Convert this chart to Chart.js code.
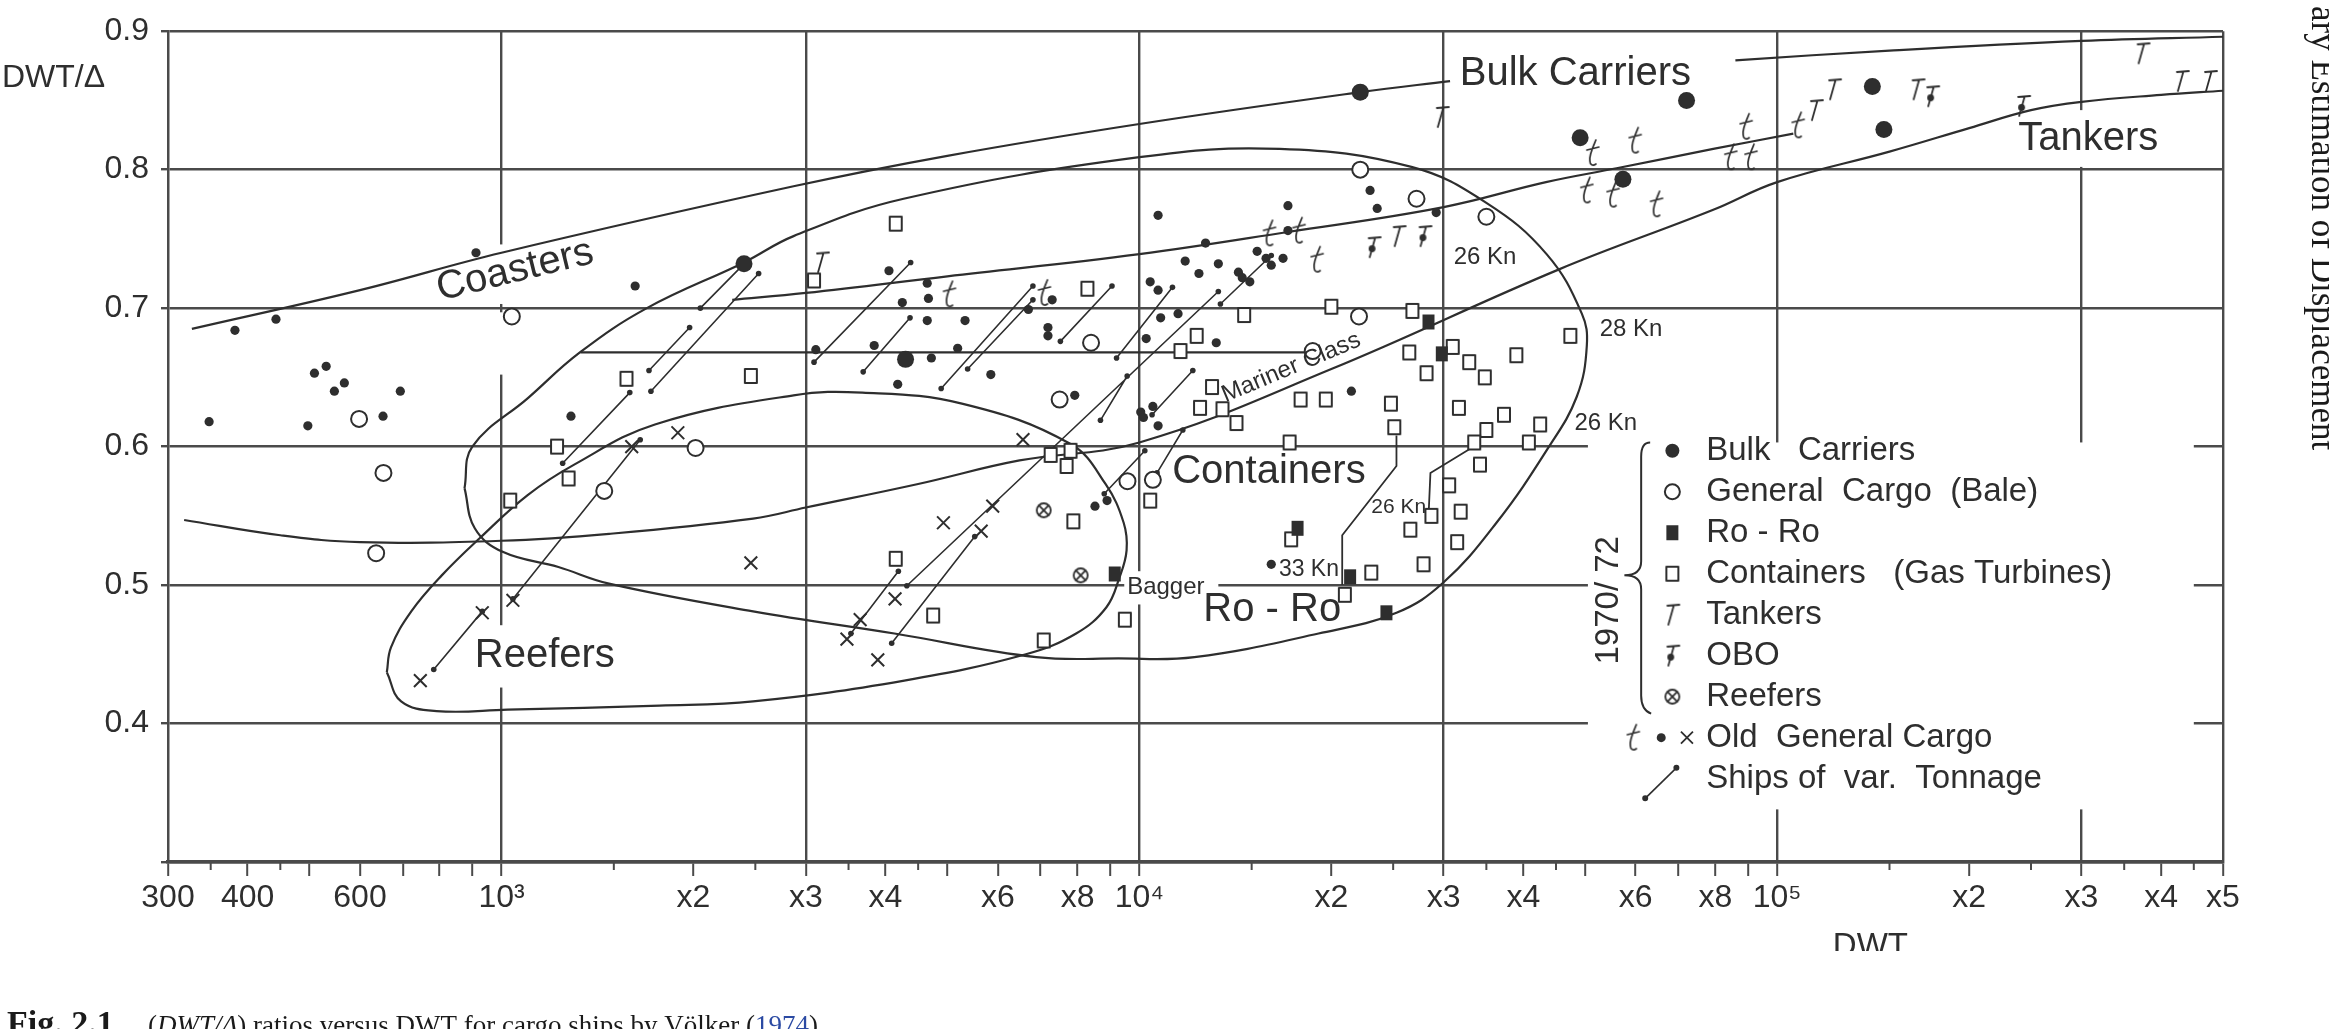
<!DOCTYPE html>
<html>
<head>
<meta charset="utf-8">
<style>
html, body { margin: 0; padding: 0; background: #fff; }
canvas { display: block; }
</style>
<script src="https://cdn.jsdelivr.net/npm/chart.js@4.4.1/dist/chart.umd.min.js"></script>
</head>
<body>
<canvas id="chart" width="2329" height="1029"></canvas>
<script>
// axis ticks
var xTickValues = [300,350,400,450,500,600,700,800,900,1000,1500,2000,2500,3000,3500,4000,4500,5000,6000,7000,8000,9000,
  10000,15000,20000,25000,30000,35000,40000,45000,50000,60000,70000,80000,90000,100000,150000,200000,250000,300000,350000,400000,450000,500000];
var xShortTicks = [350,450,1500,2500,3500,4500,15000,25000,35000,45000,150000,250000,350000,450000];
var xGridValues = [1000,3000,10000,30000,100000,300000,500000];
var xLabelValues = [300,400,600,1000,2000,3000,4000,6000,8000,10000,20000,30000,40000,60000,80000,100000,200000,300000,400000,500000];
var xLabelTexts = ['300','400','600','10³','x2','x3','x4','x6','x8','10⁴','x2','x3','x4','x6','x8','10⁵','x2','x3','x4','x5'];
var yTickValues = [0.3,0.4,0.5,0.6,0.7,0.8,0.9];
var yTickLabels = ['','0.4','0.5','0.6','0.7','0.8','0.9'];

// 1970/72 ships  [DWT, DWT/displacement]
var bulkCarriers = [[2400,0.732],[4300,0.663],[22200,0.856],[49100,0.823],[57300,0.793],[72100,0.850],[141000,0.860],[147000,0.829]];
var generalCargoBale = [[598,0.620],[653,0.581],[636,0.523],[1038,0.694],[1449,0.568],[2015,0.599],[7500,0.634],[8400,0.675],
  [9580,0.575],[10500,0.576],[18700,0.669],[22100,0.694],[22200,0.800],[27200,0.779],[35000,0.766]];
var roRo = [[9150,0.508],[17700,0.541],[21400,0.506],[24400,0.480],[28400,0.690],[29800,0.667]];
var containers = [[1032,0.561],[1222,0.600],[1274,0.577],[1570,0.649],[2460,0.651],[3090,0.720],[4150,0.761],[4150,0.519],
  [4750,0.478],[7080,0.460],[7260,0.594],[7800,0.597],[7690,0.586],[7880,0.546],[8290,0.714],[9490,0.475],[10400,0.561],
  [11600,0.669],[12300,0.680],[13000,0.643],[12450,0.628],[13500,0.627],[14200,0.617],[14600,0.695],[17900,0.634],[19600,0.634],
  [17200,0.603],[20000,0.701],[24800,0.631],[25100,0.614],[26500,0.668],[26800,0.698],[28200,0.653],[31000,0.672],[32900,0.661],
  [34800,0.650],[39000,0.666],[31700,0.628],[37300,0.623],[35000,0.612],[33500,0.603],[42500,0.616],[40800,0.603],[47400,0.680],
  [34200,0.587],[30600,0.572],[31900,0.553],[28700,0.550],[26600,0.540],[31500,0.531],[17300,0.533],[23100,0.509],[21000,0.493],
  [27900,0.515]];
var tankers = [[3180,0.733],[25500,0.752],[29800,0.838],[115000,0.843],[122800,0.858],[166000,0.858],[374000,0.884],[431000,0.864],[477000,0.864]];
var obo = [[23300,0.744],[28000,0.752],[175000,0.853],[243000,0.846]];
var reefers = [[7080,0.554],[8090,0.507]];

// old general cargo ships
var oldCargoT = [[5040,0.710],[7100,0.711],[16000,0.754],[17800,0.756],[19000,0.735],[51400,0.812],[59900,0.821],[50300,0.785],
  [55300,0.782],[64700,0.775],[89400,0.831],[84600,0.809],[91000,0.809],[107900,0.832]];
var oldCargoDots = [[348,0.618],[382,0.684],[443,0.692],[497,0.615],[509,0.653],[531,0.658],[547,0.640],[567,0.646],[652,0.622],
  [694,0.640],[912,0.740],[1285,0.622],[1620,0.716],[3110,0.670],[3840,0.673],[4050,0.727],[4250,0.704],[4650,0.718],[4670,0.707],
  [4650,0.691],[5330,0.691],[4720,0.664],[5190,0.671],[4180,0.645],[5850,0.652],[6700,0.699],[7300,0.706],[7190,0.686],[7190,0.680],
  [7920,0.637],[8520,0.557],[8900,0.561],[10050,0.625],[10150,0.621],[10500,0.629],[10700,0.615],[10250,0.678],[10800,0.693],
  [11500,0.696],[10400,0.719],[10700,0.713],[10700,0.767],[11800,0.734],[12700,0.747],[13300,0.732],[12400,0.725],[13200,0.675],
  [15300,0.741],[15800,0.736],[16100,0.731],[16800,0.736],[14300,0.726],[14500,0.722],[14900,0.719],[17100,0.774],[17100,0.756],
  [23000,0.785],[23600,0.772],[29200,0.769],[21500,0.640],[16100,0.515]];
var oldCargoX = [[746,0.431],[933,0.480],[1042,0.489],[1600,0.600],[1890,0.610],[2460,0.516],[3480,0.461],[3650,0.475],[3890,0.446],
  [4140,0.490],[4930,0.545],[5650,0.539],[5890,0.557],[6570,0.605]];

// ships of various tonnage (pairs of end points)
var tonnageLines = [
  [[2050,0.700],[2400,0.732]], [[1715,0.640],[2530,0.725]], [[1703,0.655],[1972,0.686]], [[1247,0.588],[1589,0.639]],
  [[1042,0.490],[1650,0.605]], [[783,0.439],[933,0.481]], [[3090,0.661],[4380,0.733]], [[3690,0.654],[4370,0.693]],
  [[4890,0.642],[6810,0.716]], [[5380,0.656],[6810,0.706]], [[7520,0.676],[9060,0.716]], [[8690,0.619],[9570,0.651]],
  [[3530,0.465],[4190,0.510]], [[4320,0.4995],[13300,0.712]], [[4090,0.458],[5520,0.535]], [[9210,0.664],[11270,0.715]],
  [[10470,0.623],[12130,0.655]], [[13400,0.703],[16100,0.738]], [[10660,0.581],[11700,0.612]], [[8810,0.566],[10200,0.597]]
];

// boundary curves
var topCurveLeft = [[327,0.685],[600,0.713],[1000,0.740],[2870,0.788],[5000,0.810],[10000,0.833],[22200,0.856],[30700,0.864]];
var topCurveRight = [[86000,0.879],[150000,0.886],[300000,0.893],[500000,0.896]];
var middleCurve = [[2300,0.706],[3000,0.711],[5000,0.723],[10000,0.739],[17100,0.755],[30000,0.773],[43400,0.791],[56000,0.801],
  [79400,0.815],[106000,0.826]];
var longCurve = [[318,0.547],[450,0.536],[600,0.531],[1000,0.532],[1475,0.537],[2480,0.548],[3000,0.556],[4500,0.573],[6490,0.590],
  [10000,0.603],[20000,0.656],[45500,0.728],[79400,0.771],[100000,0.791],[150000,0.813],[200000,0.830],[250000,0.843],
  [300000,0.849],[400000,0.854],[500000,0.857]];
var cargoEnvelope = [[875,0.570],[900,0.600],[1100,0.635],[1327,0.668],[1690,0.700],[2400,0.733],[2870,0.752],[4270,0.779],
  [10000,0.809],[16600,0.815],[26700,0.802],[35000,0.776],[43500,0.739],[49400,0.696],[50300,0.673],[48500,0.636],[43600,0.598],
  [36300,0.545],[30000,0.502],[25300,0.480],[19100,0.465],[12200,0.448],[9270,0.447],[6890,0.448],[4130,0.465],[2480,0.481],
  [1474,0.501],[1228,0.513],[1004,0.524],[908,0.541],[875,0.570]];
var reefersEnvelope = [[661,0.437],[671,0.455],[722,0.481],[806,0.507],[925,0.534],[1099,0.565],[1300,0.587],[1740,0.616],
  [2870,0.637],[3680,0.639],[5270,0.631],[7790,0.602],[8850,0.573],[9450,0.545],[9550,0.525],[9300,0.505],[8880,0.484],
  [7960,0.465],[6640,0.450],[4280,0.431],[2480,0.416],[1770,0.413],[1022,0.410],[791,0.409],[696,0.416],[661,0.437]];
var marinerBar = [[1330,0.668],[18500,0.668]];
var knotLineA = [[25300,0.608],[25300,0.586],[20800,0.536],[20800,0.500]];
var knotLineB = [[34000,0.602],[28600,0.581],[28400,0.549]];

var legendLabels = ['Bulk   Carriers','General  Cargo  (Bale)','Ro - Ro','Containers   (Gas Turbines)','Tankers','OBO','Reefers',
  'Old  General Cargo','Ships of  var.  Tonnage'];

// ---- styling / layout ----
var INK = '#2e2e2e';
var GRID = '#4a4a4a';
var SANS = "'Liberation Sans', Arial, Helvetica, sans-serif";
var SERIF = "'Liberation Serif', 'Times New Roman', serif";

var regionLabels = [
  {text:'Coasters', x:1050, y:0.727, size:40, rot:-13.8, align:'center'},
  {text:'Bulk Carriers', x:31800, y:0.869, size:40},
  {text:'Tankers', x:238800, y:0.822, size:40},
  {text:'Containers', x:11260, y:0.582, size:40},
  {text:'Reefers', x:908, y:0.449, size:40},
  {text:'Ro - Ro', x:12600, y:0.482, size:40},
  {text:'Bagger', x:9570, y:0.498, size:24},
  {text:'Mariner Class', x:17300, y:0.657, size:24, rot:-22.7, align:'center'},
  {text:'26 Kn', x:31100, y:0.737, size:24},
  {text:'28 Kn', x:52700, y:0.685, size:24},
  {text:'26 Kn', x:48100, y:0.617, size:24},
  {text:'26 Kn', x:23100, y:0.556, size:21},
  {text:'33 Kn', x:16550, y:0.511, size:23},
  {text:'1970/ 72', x:54400, y:0.489, size:33, rot:-90, align:'center'}
];
var gridGaps = [
  {rect:[50500, 450000, 0.338, 0.603]},
  {vx:1000, y:[0.652, 0.697]}, {vx:1000, y:[0.703, 0.746]}, {vx:1000, y:[0.426, 0.471]},
  {vx:10000, y:[0.486, 0.510]}, {hy:0.5, x:[9470, 13300]},
  {vx:300000, y:[0.802, 0.843]}
];
var LEGEND = {markerX:68500, textX:77400, topY:0.597, step:0.0296, size:33};
var BRACE = {x:61200, tipX:57600, top:0.603, mid:0.507, bottom:0.410};

function makeMarker(w, h, draw) {
  var c = document.createElement('canvas');
  c.width = w; c.height = h;
  var g = c.getContext('2d');
  g.strokeStyle = INK; g.fillStyle = INK; g.lineCap = 'round'; g.lineJoin = 'round';
  draw(g);
  return c;
}
var openSquare = makeMarker(16, 18, function (g) { g.fillStyle = '#fff'; g.fillRect(2, 2, 12, 14); g.lineWidth = 2; g.strokeRect(2, 2, 12, 14); });
var solidSquare = makeMarker(14, 17, function (g) { g.fillRect(1, 1, 12, 15); });
function drawT(g) { g.lineWidth = 1.8; g.beginPath(); g.moveTo(5, 4); g.lineTo(17, 3); g.moveTo(11.5, 3.5); g.lineTo(6, 23); g.stroke(); }
var tankerMark = makeMarker(20, 26, drawT);
var oboMark = makeMarker(20, 26, function (g) { drawT(g); g.beginPath(); g.arc(8.4, 14.5, 3.4, 0, Math.PI * 2); g.fill(); });
var oldTMark = makeMarker(20, 30, function (g) {
  g.lineWidth = 1.7; g.beginPath();
  g.moveTo(13, 2); g.bezierCurveTo(10, 9, 6, 17, 7, 23); g.bezierCurveTo(7, 27, 10, 28, 13, 26);
  g.moveTo(4, 12); g.lineTo(16, 9); g.stroke();
});
var reeferMark = makeMarker(20, 20, function (g) {
  g.fillStyle = '#fff'; g.beginPath(); g.arc(10, 10, 7, 0, Math.PI * 2); g.fill();
  g.lineWidth = 1.8; g.stroke();
  g.beginPath(); g.moveTo(5.2, 5.2); g.lineTo(14.8, 14.8); g.moveTo(14.8, 5.2); g.lineTo(5.2, 14.8); g.stroke();
});

function pts(arr) { return arr.map(function (p) { return {x: p[0], y: p[1]}; }); }
function segs(list) {
  var out = [];
  list.forEach(function (s, i) {
    if (i) out.push({x: null, y: null});
    s.forEach(function (p) { out.push({x: p[0], y: p[1]}); });
  });
  return out;
}
function curve(arr, extra) {
  var d = {data: pts(arr), showLine: true, pointRadius: 0, borderColor: INK, borderWidth: 2.2, tension: 0.4, fill: false, order: 3};
  for (var k in extra) d[k] = extra[k];
  return d;
}

var datasets = [
  {data: pts(bulkCarriers), pointStyle: 'circle', pointRadius: 8.5, pointBackgroundColor: INK, pointBorderWidth: 0, order: 1},
  {data: pts(generalCargoBale), pointStyle: 'circle', pointRadius: 8, pointBackgroundColor: '#fff', pointBorderColor: INK, pointBorderWidth: 2, order: 1},
  {data: pts(roRo), pointStyle: solidSquare, order: 1},
  {data: pts(containers), pointStyle: openSquare, order: 1},
  {data: pts(tankers), pointStyle: tankerMark, order: 1},
  {data: pts(obo), pointStyle: oboMark, order: 1},
  {data: pts(reefers), pointStyle: reeferMark, order: 1},
  {data: pts(oldCargoT), pointStyle: oldTMark, order: 1},
  {data: pts(oldCargoDots), pointStyle: 'circle', pointRadius: 4.6, pointBackgroundColor: INK, pointBorderWidth: 0, order: 1},
  {data: pts(oldCargoX), pointStyle: 'crossRot', pointRadius: 9, pointBorderColor: INK, pointBorderWidth: 2, order: 1},
  {data: segs(tonnageLines), showLine: true, tension: 0, borderColor: INK, borderWidth: 1.6, pointStyle: 'circle',
    pointRadius: 2.8, pointBackgroundColor: INK, pointBorderWidth: 0, order: 2},
  curve(topCurveLeft), curve(topCurveRight), curve(middleCurve), curve(longCurve),
  curve(cargoEnvelope), curve(reefersEnvelope),
  curve(marinerBar, {tension: 0}), curve(knotLineA, {tension: 0, borderWidth: 1.8}), curve(knotLineB, {tension: 0, borderWidth: 1.8})
];

function drawText(ctx, s, x, y, o) {
  ctx.save();
  ctx.translate(x, y);
  if (o.rot) ctx.rotate(o.rot * Math.PI / 180);
  ctx.font = (o.style || '') + ' ' + o.size + 'px ' + (o.family || SANS);
  ctx.fillStyle = o.color || INK;
  ctx.textAlign = o.align || 'left';
  ctx.textBaseline = o.baseline || 'middle';
  ctx.fillText(s, 0, 0);
  ctx.restore();
}

var overlay = {
  id: 'overlay',
  beforeDatasetsDraw: function (chart) {
    var ctx = chart.ctx, xs = chart.scales.x, ys = chart.scales.y;
    ctx.save();
    ctx.fillStyle = '#fff';
    gridGaps.forEach(function (g) {
      if (g.rect) {
        var x1 = xs.getPixelForValue(g.rect[0]), x2 = xs.getPixelForValue(g.rect[1]);
        var y1 = ys.getPixelForValue(g.rect[3]), y2 = ys.getPixelForValue(g.rect[2]);
        ctx.fillRect(x1, y1, x2 - x1, y2 - y1);
      } else if (g.vx) {
        var px = xs.getPixelForValue(g.vx), ya = ys.getPixelForValue(g.y[1]), yb = ys.getPixelForValue(g.y[0]);
        ctx.fillRect(px - 4, ya, 8, yb - ya);
      } else {
        var py = ys.getPixelForValue(g.hy), xa = xs.getPixelForValue(g.x[0]), xb = xs.getPixelForValue(g.x[1]);
        ctx.fillRect(xa, py - 4, xb - xa, 8);
      }
    });
    ctx.restore();
  },
  afterDraw: function (chart) {
    var ctx = chart.ctx, xs = chart.scales.x, ys = chart.scales.y, area = chart.chartArea;
    var X = function (v) { return xs.getPixelForValue(v); };
    var Y = function (v) { return ys.getPixelForValue(v); };
    ctx.save();

    // short ticks
    ctx.strokeStyle = GRID; ctx.lineWidth = 2;
    xShortTicks.forEach(function (v) {
      var p = X(v);
      ctx.beginPath(); ctx.moveTo(p, area.bottom); ctx.lineTo(p, area.bottom + 8); ctx.stroke();
    });

    // region labels
    regionLabels.forEach(function (l) { drawText(ctx, l.text, X(l.x), Y(l.y), l); });

    // legend
    var mx = X(LEGEND.markerX), tx = X(LEGEND.textX);
    legendLabels.forEach(function (s, i) {
      var y = Y(LEGEND.topY - i * LEGEND.step);
      drawText(ctx, s, tx, y, {size: LEGEND.size});
      ctx.save();
      ctx.strokeStyle = INK; ctx.fillStyle = INK;
      if (i === 0) { ctx.beginPath(); ctx.arc(mx, y, 7, 0, Math.PI * 2); ctx.fill(); }
      if (i === 1) { ctx.lineWidth = 2; ctx.beginPath(); ctx.arc(mx, y, 7.5, 0, Math.PI * 2); ctx.stroke(); }
      var img = [null, null, solidSquare, openSquare, tankerMark, oboMark, reeferMark][i];
      if (img) ctx.drawImage(img, mx - img.width / 2, y - img.height / 2);
      if (i === 7) {
        ctx.drawImage(oldTMark, X(59500) - 10, y - 15);
        ctx.beginPath(); ctx.arc(X(65800), y, 4.5, 0, Math.PI * 2); ctx.fill();
        var cx = X(72200);
        ctx.lineWidth = 1.8; ctx.beginPath();
        ctx.moveTo(cx - 6, y - 6); ctx.lineTo(cx + 6, y + 6); ctx.moveTo(cx + 6, y - 6); ctx.lineTo(cx - 6, y + 6); ctx.stroke();
      }
      if (i === 8) {
        var ax = X(62100), ay = Y(0.346), bx = X(69500), by = Y(0.368);
        ctx.lineWidth = 1.6; ctx.beginPath(); ctx.moveTo(ax, ay); ctx.lineTo(bx, by); ctx.stroke();
        ctx.beginPath(); ctx.arc(ax, ay, 3, 0, Math.PI * 2); ctx.arc(bx, by, 3, 0, Math.PI * 2); ctx.fill();
      }
      ctx.restore();
    });

    // brace
    var bxp = X(BRACE.x), tip = X(BRACE.tipX), t = Y(BRACE.top), m = Y(BRACE.mid), b = Y(BRACE.bottom);
    ctx.lineWidth = 2; ctx.strokeStyle = INK;
    ctx.beginPath();
    ctx.moveTo(bxp + 9, t);
    ctx.quadraticCurveTo(bxp, t, bxp, t + 14);
    ctx.lineTo(bxp, m - 14);
    ctx.quadraticCurveTo(bxp, m, tip, m);
    ctx.quadraticCurveTo(bxp, m, bxp, m + 14);
    ctx.lineTo(bxp, b - 14);
    ctx.quadraticCurveTo(bxp, b, bxp + 10, b + 4);
    ctx.stroke();

    // axis titles
    drawText(ctx, 'DWT/Δ', 2, 78, {size: 32});
    ctx.save();
    ctx.beginPath(); ctx.rect(0, 0, chart.width, 951); ctx.clip();
    drawText(ctx, 'DWT', X(140000), 956, {size: 33, align: 'center', baseline: 'alphabetic'});
    ctx.restore();

    // caption (cut off at the bottom edge)
    var runs = [
      {t: 'Fig. 2.1', f: 'bold 34px ' + SERIF, x: 7},
      {t: '(', f: '27px ' + SERIF, x: 148},
      {t: 'DWT/Δ', f: 'italic 27px ' + SERIF},
      {t: ') ratios versus DWT for cargo ships by Völker (', f: '27px ' + SERIF},
      {t: '1974', f: '27px ' + SERIF, c: '#2b4aa3'},
      {t: ')', f: '27px ' + SERIF}
    ];
    var cx2 = 7;
    ctx.textBaseline = 'alphabetic'; ctx.textAlign = 'left';
    runs.forEach(function (r) {
      if (r.x !== undefined) cx2 = r.x;
      ctx.font = r.f; ctx.fillStyle = r.c || '#1a1a1a';
      ctx.fillText(r.t, cx2, 1034);
      cx2 += ctx.measureText(r.t).width;
    });

    // running head on the right edge
    drawText(ctx, 'ary Estimation of Displacement', 2312, 6, {size: 35, family: SERIF, rot: 90, baseline: 'alphabetic', color: '#1a1a1a'});

    ctx.restore();
  }
};

new Chart(document.getElementById('chart'), {
  type: 'scatter',
  data: {datasets: datasets},
  options: {
    responsive: false,
    animation: false,
    devicePixelRatio: 1,
    events: [],
    layout: {padding: {left: 0, top: 22, right: 106, bottom: 0}},
    plugins: {legend: {display: false}, tooltip: {enabled: false}},
    scales: {
      x: {
        type: 'logarithmic', min: 300, max: 500000,
        afterBuildTicks: function (s) { s.ticks = xTickValues.map(function (v) { return {value: v}; }); },
        afterFit: function (s) { s.height = 167; },
        ticks: {
          autoSkip: false, maxRotation: 0, minRotation: 0, padding: 3, color: INK,
          font: {family: SANS, size: 32},
          callback: function (v) { var i = xLabelValues.indexOf(v); return i < 0 ? '' : xLabelTexts[i]; }
        },
        grid: {
          color: function (c) { return (c.tick && xGridValues.indexOf(c.tick.value) >= 0) ? GRID : 'rgba(0,0,0,0)'; },
          lineWidth: 2.4, tickLength: 14, tickWidth: 2,
          tickColor: function (c) { return (c.tick && xShortTicks.indexOf(c.tick.value) >= 0) ? 'rgba(0,0,0,0)' : GRID; }
        },
        border: {color: GRID, width: 3.5}
      },
      y: {
        min: 0.3, max: 0.9,
        afterBuildTicks: function (s) { s.ticks = yTickValues.map(function (v) { return {value: v}; }); },
        afterFit: function (s) { s.width = 168; },
        ticks: {
          padding: 12, color: INK, font: {family: SANS, size: 32},
          callback: function (v) { var i = yTickValues.indexOf(v); return i < 0 ? '' : yTickLabels[i]; }
        },
        grid: {color: GRID, lineWidth: 2.4, tickLength: 7},
        border: {color: GRID, width: 2.5}
      }
    }
  },
  plugins: [overlay]
});
</script>
</body>
</html>
